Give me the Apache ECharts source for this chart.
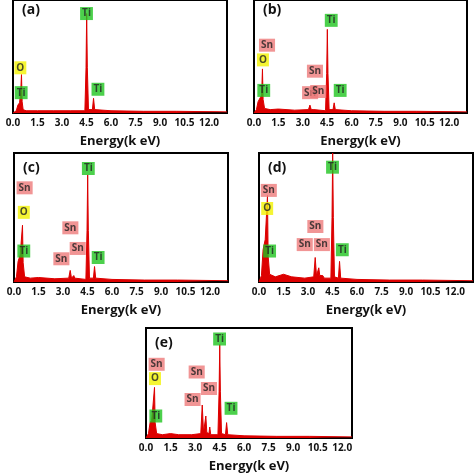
<!DOCTYPE html>
<html><head><meta charset="utf-8">
<script src="https://cdn.jsdelivr.net/npm/echarts@6/dist/echarts.min.js"></script>
<style>html,body{margin:0;padding:0;background:#fff}#c{width:474px;height:474px}</style>
</head><body><div id="c"></div>
<script>
const panelNames = ['(a)','(b)','(c)','(d)','(e)'];
const tickLabels = ['0.0','1.5','3.0','4.5','6.0','7.5','9.0','10.5','12.0'];
const specA = [[0,0],[0.2,0.02],[0.3,0.07],[0.4,0.09],[0.47,0.18],[0.52,0.34],[0.56,0.1],[0.62,0.03],[0.8,0.02],[1.5,0.02],[2.5,0.02],[3.5,0.02],[4.4,0.02],[4.47,0.4],[4.51,0.88],[4.55,0.4],[4.62,0.03],[4.86,0.03],[4.93,0.13],[5.0,0.03],[6,0.02],[8,0.015],[10,0.015],[13.1,0.01]];
const specB = [[0,0],[0.15,0.03],[0.25,0.1],[0.4,0.14],[0.47,0.16],[0.52,0.39],[0.56,0.12],[0.65,0.04],[1.0,0.03],[1.5,0.035],[2.5,0.025],[3.35,0.03],[3.44,0.07],[3.52,0.03],[3.62,0.04],[3.68,0.03],[4.4,0.02],[4.47,0.35],[4.51,0.74],[4.55,0.35],[4.62,0.03],[4.86,0.03],[4.93,0.09],[5.0,0.03],[6,0.02],[8,0.015],[10,0.015],[13.1,0.01]];
const specC = [[0,0],[0.15,0.04],[0.25,0.16],[0.38,0.21],[0.47,0.22],[0.52,0.44],[0.56,0.15],[0.65,0.04],[1.0,0.03],[1.5,0.035],[2.5,0.025],[3.35,0.03],[3.44,0.09],[3.52,0.03],[3.62,0.04],[3.66,0.05],[3.72,0.03],[4.4,0.02],[4.47,0.4],[4.51,0.83],[4.55,0.4],[4.62,0.03],[4.86,0.03],[4.93,0.12],[5.0,0.03],[6,0.02],[8,0.015],[10,0.015],[13.1,0.01]];
const specD = [[0,0],[0.15,0.05],[0.25,0.25],[0.38,0.33],[0.47,0.34],[0.52,0.67],[0.56,0.2],[0.65,0.06],[1.0,0.04],[1.5,0.06],[2.0,0.04],[2.8,0.03],[3.35,0.04],[3.44,0.19],[3.52,0.05],[3.62,0.06],[3.66,0.11],[3.72,0.05],[3.9,0.05],[4.0,0.03],[4.4,0.03],[4.47,0.5],[4.51,1.0],[4.55,0.5],[4.62,0.04],[4.86,0.03],[4.93,0.16],[5.0,0.03],[6,0.02],[8,0.015],[10,0.015],[13.1,0.01]];
const specE = [[0,0],[0.15,0.04],[0.25,0.14],[0.35,0.16],[0.47,0.17],[0.52,0.46],[0.56,0.14],[0.65,0.04],[1.0,0.03],[1.5,0.04],[2.0,0.03],[2.8,0.03],[3.35,0.04],[3.44,0.3],[3.52,0.05],[3.6,0.06],[3.66,0.2],[3.72,0.05],[3.85,0.04],[3.9,0.1],[3.96,0.03],[4.4,0.03],[4.47,0.42],[4.51,0.85],[4.55,0.42],[4.62,0.04],[4.86,0.03],[4.93,0.14],[5.0,0.03],[6,0.02],[8,0.015],[10,0.015],[12.6,0.01]];
const labelsA = [['O',0.45,0.40],['Ti',0.5,0.18],['Ti',4.5,0.88],['Ti',5.2,0.21]];
const labelsB = [['Sn',0.8,0.60],['O',0.55,0.47],['Ti',0.6,0.20],['Sn',3.75,0.37],['Sn',3.45,0.18],['Sn',3.95,0.19],['Ti',4.75,0.82],['Ti',5.3,0.20]];
const labelsC = [['Sn',0.65,0.73],['O',0.6,0.54],['Ti',0.6,0.24],['Sn',3.45,0.42],['Sn',3.9,0.26],['Sn',2.9,0.18],['Ti',4.55,0.88],['Ti',5.15,0.19]];
const labelsD = [['Sn',0.6,0.71],['O',0.5,0.57],['Ti',0.65,0.24],['Sn',3.45,0.43],['Sn',2.8,0.29],['Sn',3.85,0.29],['Ti',4.5,0.89],['Ti',5.1,0.25]];
const labelsE = [['Sn',0.65,0.67],['O',0.55,0.54],['Ti',0.6,0.20],['Sn',3.1,0.60],['Sn',3.85,0.45],['Sn',2.85,0.35],['Ti',4.5,0.90],['Ti',5.2,0.27]];

const specs=[specA,specB,specC,specD,specE];
const labs=[labelsA,labelsB,labelsC,labelsD,labelsE];
const grids=[{left:13,top:-15,width:214,height:128,xmax:13.1},
 {left:254,top:-15,width:213,height:128,xmax:13.1},
 {left:14,top:153,width:214,height:129,xmax:13.1},
 {left:259,top:153,width:214,height:129,xmax:13.1},
 {left:146,top:328,width:206,height:127,xmax:12.6}];
const bg={Ti:'#1fc41f',O:'#f2f200',Sn:'#ee7b7b'};
const ff='"Open Sans", "Liberation Sans", sans-serif';
const opt={animation:false,grid:[],xAxis:[],yAxis:[],series:[],title:[]};
grids.forEach((g,i)=>{
 opt.grid.push({left:g.left,top:g.top,width:g.width,height:g.height,show:true,borderColor:'#000',borderWidth:2,backgroundColor:'#fff'});
 opt.xAxis.push({gridIndex:i,type:'value',min:0,max:g.xmax,interval:1.5,splitLine:{show:false},
  axisLine:{show:false},axisTick:{show:false},
  axisLabel:{color:'#111',fontWeight:'bold',fontSize:10,fontFamily:ff,margin:5,showMaxLabel:false,
   formatter:v=>{const k=Math.round(v/1.5);return tickLabels[k]!==undefined?tickLabels[k]:'';}},
  name:'Energy(k eV)',nameLocation:'middle',nameGap:22,nameTextStyle:{color:'#111',fontWeight:'bold',fontSize:13,fontFamily:ff}});
 opt.yAxis.push({gridIndex:i,type:'value',min:0,max:1,show:false});
 opt.series.push({type:'line',xAxisIndex:i,yAxisIndex:i,data:specs[i],symbol:'none',
  lineStyle:{color:'#dd0000',width:1},areaStyle:{color:'#dd0000',opacity:1}});
 opt.series.push({type:'scatter',xAxisIndex:i,yAxisIndex:i,symbolSize:1,itemStyle:{color:'rgba(0,0,0,0)'},z:5,
  data:labs[i].map(l=>({value:[l[1],l[2]],label:{show:true,position:'inside',formatter:l[0],
   backgroundColor:bg[l[0]],color:'#222',fontWeight:'bold',fontSize:10,fontFamily:ff,padding:[2,2,1,2]}}))});
 opt.title.push({text:panelNames[i],left:g.left+4,top:g.top+(i<2?13:3),textStyle:{fontSize:14,fontWeight:'bold',color:'#111',fontFamily:ff}});
});
const ch=echarts.init(document.getElementById('c'));
ch.setOption(opt);
</script></body></html>
